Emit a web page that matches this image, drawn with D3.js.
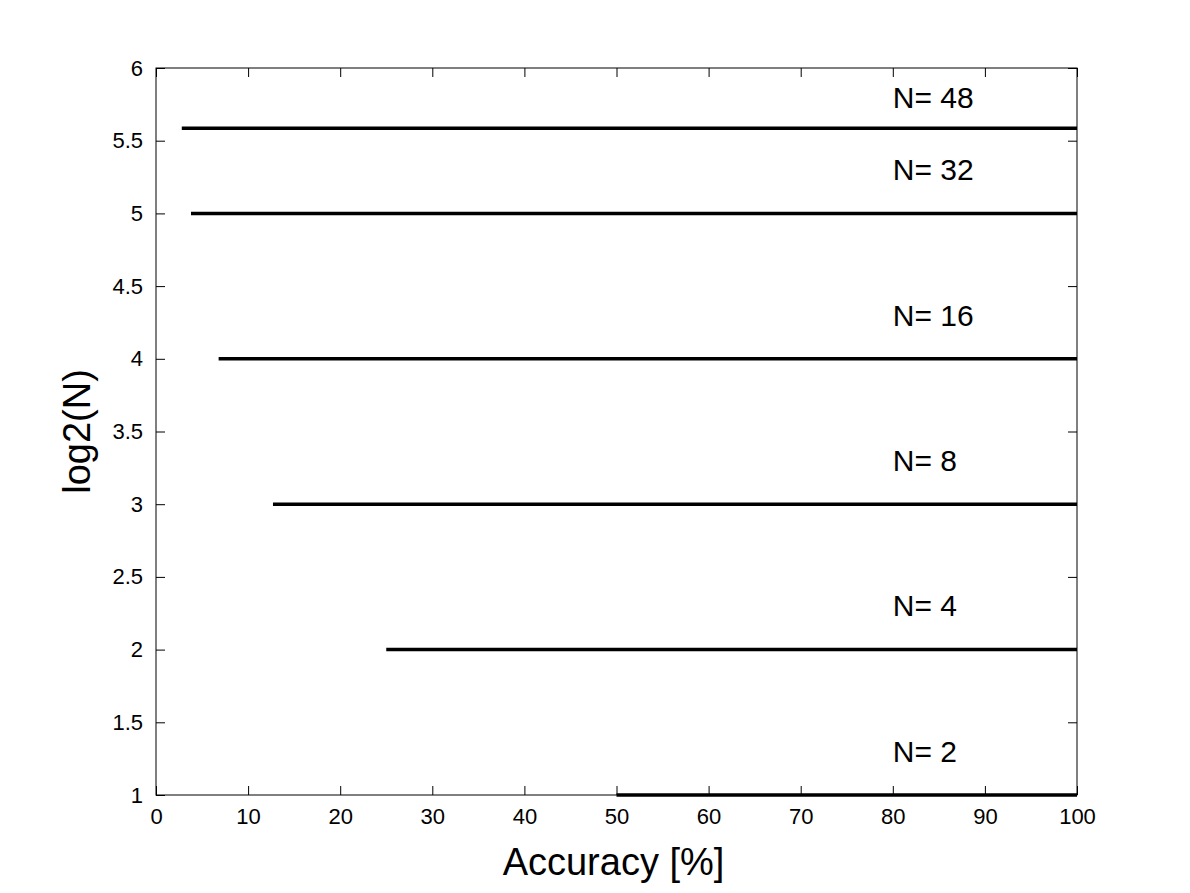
<!DOCTYPE html><html><head><script src="https://d3js.org/d3.v7.min.js"></script>
<style>body{margin:0;background:#fff}text{font-family:Arial,"Liberation Sans",sans-serif}</style></head><body>
<svg id="c" width="1190" height="893"></svg>
<script>
const nLabels=["N= 2","N= 4","N= 8","N= 16","N= 32","N= 48"];
const nValues=[2,4,8,16,32,48];
const startAcc=[50,25,12.7,6.8,3.8,2.8];
const endAcc=[100,100,100,100,100,100];
const labelY=[1.3,2.3,3.3,4.3,5.3,5.8];
const labelX=[80,80,80,80,80,80];
const xTicks=[0,10,20,30,40,50,60,70,80,90,100];
const yTicks=[1,1.5,2,2.5,3,3.5,4,4.5,5,5.5,6];
const svg=d3.select("#c");
const L=156,R=1077,T=68,B=795;
const x=d3.scaleLinear().domain([0,100]).range([L,R]);
const y=d3.scaleLinear().domain([1,6]).range([B,T]);
svg.append("rect").attr("x",L).attr("y",T).attr("width",R-L).attr("height",B-T).attr("fill","none").attr("stroke","#000");
const fmt=d=>String(d);
function style(g){g.attr("font-size",null).attr("font-family",null);g.select(".domain").remove();g.selectAll("text").style("font-size","22px").attr("fill","#000");g.selectAll("line").attr("stroke","#000");}
svg.append("g").attr("transform",`translate(0,${B})`).call(d3.axisBottom(x).tickValues(xTicks).tickFormat(fmt).tickSizeInner(-9).tickPadding(13)).call(style);
svg.append("g").attr("transform",`translate(0,${T})`).call(d3.axisTop(x).tickValues(xTicks).tickFormat("").tickSizeInner(-9)).call(style);
svg.append("g").attr("transform",`translate(${L},0)`).call(d3.axisLeft(y).tickValues(yTicks).tickFormat(fmt).tickSizeInner(-9).tickPadding(13)).call(style);
svg.append("g").attr("transform",`translate(${R},0)`).call(d3.axisRight(y).tickValues(yTicks).tickFormat("").tickSizeInner(-9)).call(style);
nValues.forEach((n,i)=>{
 svg.append("line").attr("x1",x(startAcc[i])).attr("x2",x(endAcc[i])).attr("y1",y(Math.log2(n))).attr("y2",y(Math.log2(n))).attr("stroke","#000").attr("stroke-width",3.5);
 svg.append("text").attr("x",x(labelX[i])).attr("y",y(labelY[i])).attr("dy","0.35em").style("font-size","30px").text(nLabels[i]);
});
svg.append("text").attr("x",(L+R)/2-3).attr("y",875).attr("text-anchor","middle").style("font-size","38px").text("Accuracy [%]");
svg.append("text").attr("transform",`translate(90,${(T+B)/2}) rotate(-90)`).attr("text-anchor","middle").style("font-size","38px").text("log2(N)");
</script></body></html>
